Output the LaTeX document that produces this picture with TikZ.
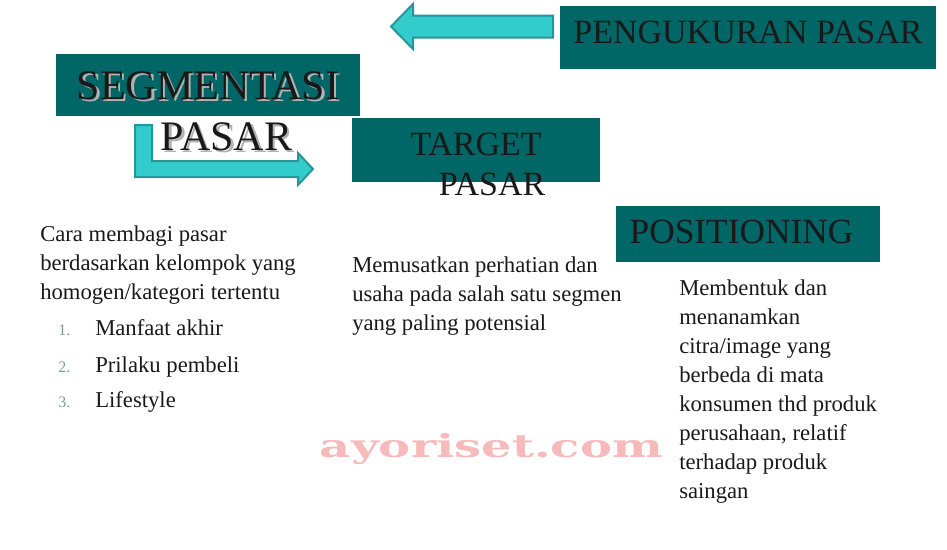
\documentclass[tikz,border=0pt]{standalone}
\usepackage{fontspec}
\setmainfont{Liberation Serif}
\newfontfamily\tandafont{DejaVu Serif}
\definecolor{hijautua}{RGB}{0,102,102}
\definecolor{toska}{RGB}{51,204,204}
\definecolor{toskagelap}{RGB}{38,150,150}
\definecolor{nomorhijau}{RGB}{120,160,130}
\definecolor{merahmuda}{RGB}{246,186,186}
\newcommand{\hurufbayang}[1]{\makebox[0pt][l]{\hspace{1.9pt}\raisebox{-1.9pt}{\textcolor{gray!60}{#1}}}#1}
\tikzset{kotak/.style = {rectangle, fill=hijautua, inner sep=0pt}}
\tikzset{judul/.style = {font=\fontsize{25.5}{30}\selectfont, text=black!90, inner sep=0pt, anchor=base}}
\tikzset{judulbesar/.style = {judul, font=\fontsize{31.5}{36}\selectfont}}
\tikzset{isi/.style = {font=\fontsize{17}{21.75}\selectfont, text=black!90, align=left, inner sep=0pt, anchor=north west}}
\tikzset{nomor/.style = {font=\fontsize{12}{14}\selectfont, text=nomorhijau, inner sep=0pt, anchor=base west}}
\tikzset{panahblok/.style = {fill=toska, draw=toskagelap, line width=1.5pt, line join=miter}}

\begin{document}
\begin{tikzpicture}[x=0.75pt,y=-0.75pt]
\useasboundingbox (0,0) rectangle (947,550);

\node[kotak,minimum width=228pt,minimum height=46.5pt] (kotakseg) at (208,85){};
\node[kotak,minimum width=282pt,minimum height=47.25pt] (kotakukur) at (748,37.5){};
\node[kotak,minimum width=186pt,minimum height=48pt] (kotaktarget) at (476,150){};
\node[kotak,minimum width=198pt,minimum height=42pt] (kotakposisi) at (748,234){};

\draw[panahblok] (553,15.5) -- (413,15.5) -- (413,4) -- (391,26.5) -- (413,49) -- (413,37.5) -- (553,37.5) -- cycle;
\draw[panahblok] (135,125) -- (135,177) -- (298,177) -- (298,185) -- (313,169) -- (298,153) -- (298,161) -- (152,161) -- (152,125) -- cycle;

\node[judulbesar] (seg) at (208,99){\hurufbayang{SEGMENTASI}};
\node[judulbesar] (pasar) at (226.5,150){\hurufbayang{PASAR}};

\node[judul] (ukur) at (748,43){PENGUKURAN PASAR};
\node[judul] (target) at (476,155){TARGET};
\node[judul] (targetpasar) at (492,195){PASAR};
\node[judul,font=\fontsize{26.5}{30}\selectfont] (posisi) at (741.5,243){POSITIONING};

\node[isi] (tekssegmen) at (40,226){Cara membagi pasar\\berdasarkan kelompok yang\\homogen/kategori tertentu};
\foreach \n/\t/\y in {1/Manfaat akhir/335,2/Prilaku pembeli/372,3/Lifestyle/407}{
  \node[nomor] (nomor\n) at (58,\y){\n.};
  \node[isi,anchor=base west] (butir\n) at (95,\y){\t};
}

\node[isi] (tekstarget) at (352,256.5){Memusatkan perhatian dan\\usaha pada salah satu segmen\\yang paling potensial};
\node[isi] (teksposisi) at (679,279.5){Membentuk dan\\menanamkan\\citra/image yang\\berbeda di mata\\konsumen thd produk\\perusahaan, relatif\\terhadap produk\\saingan};

\node[font=\tandafont\bfseries\fontsize{24}{28}\selectfont,text=merahmuda,inner sep=0pt,anchor=base] (tandaair) at (491.5,457){\scalebox{1.5}[1]{ayoriset.com}};
\end{tikzpicture}
\end{document}
